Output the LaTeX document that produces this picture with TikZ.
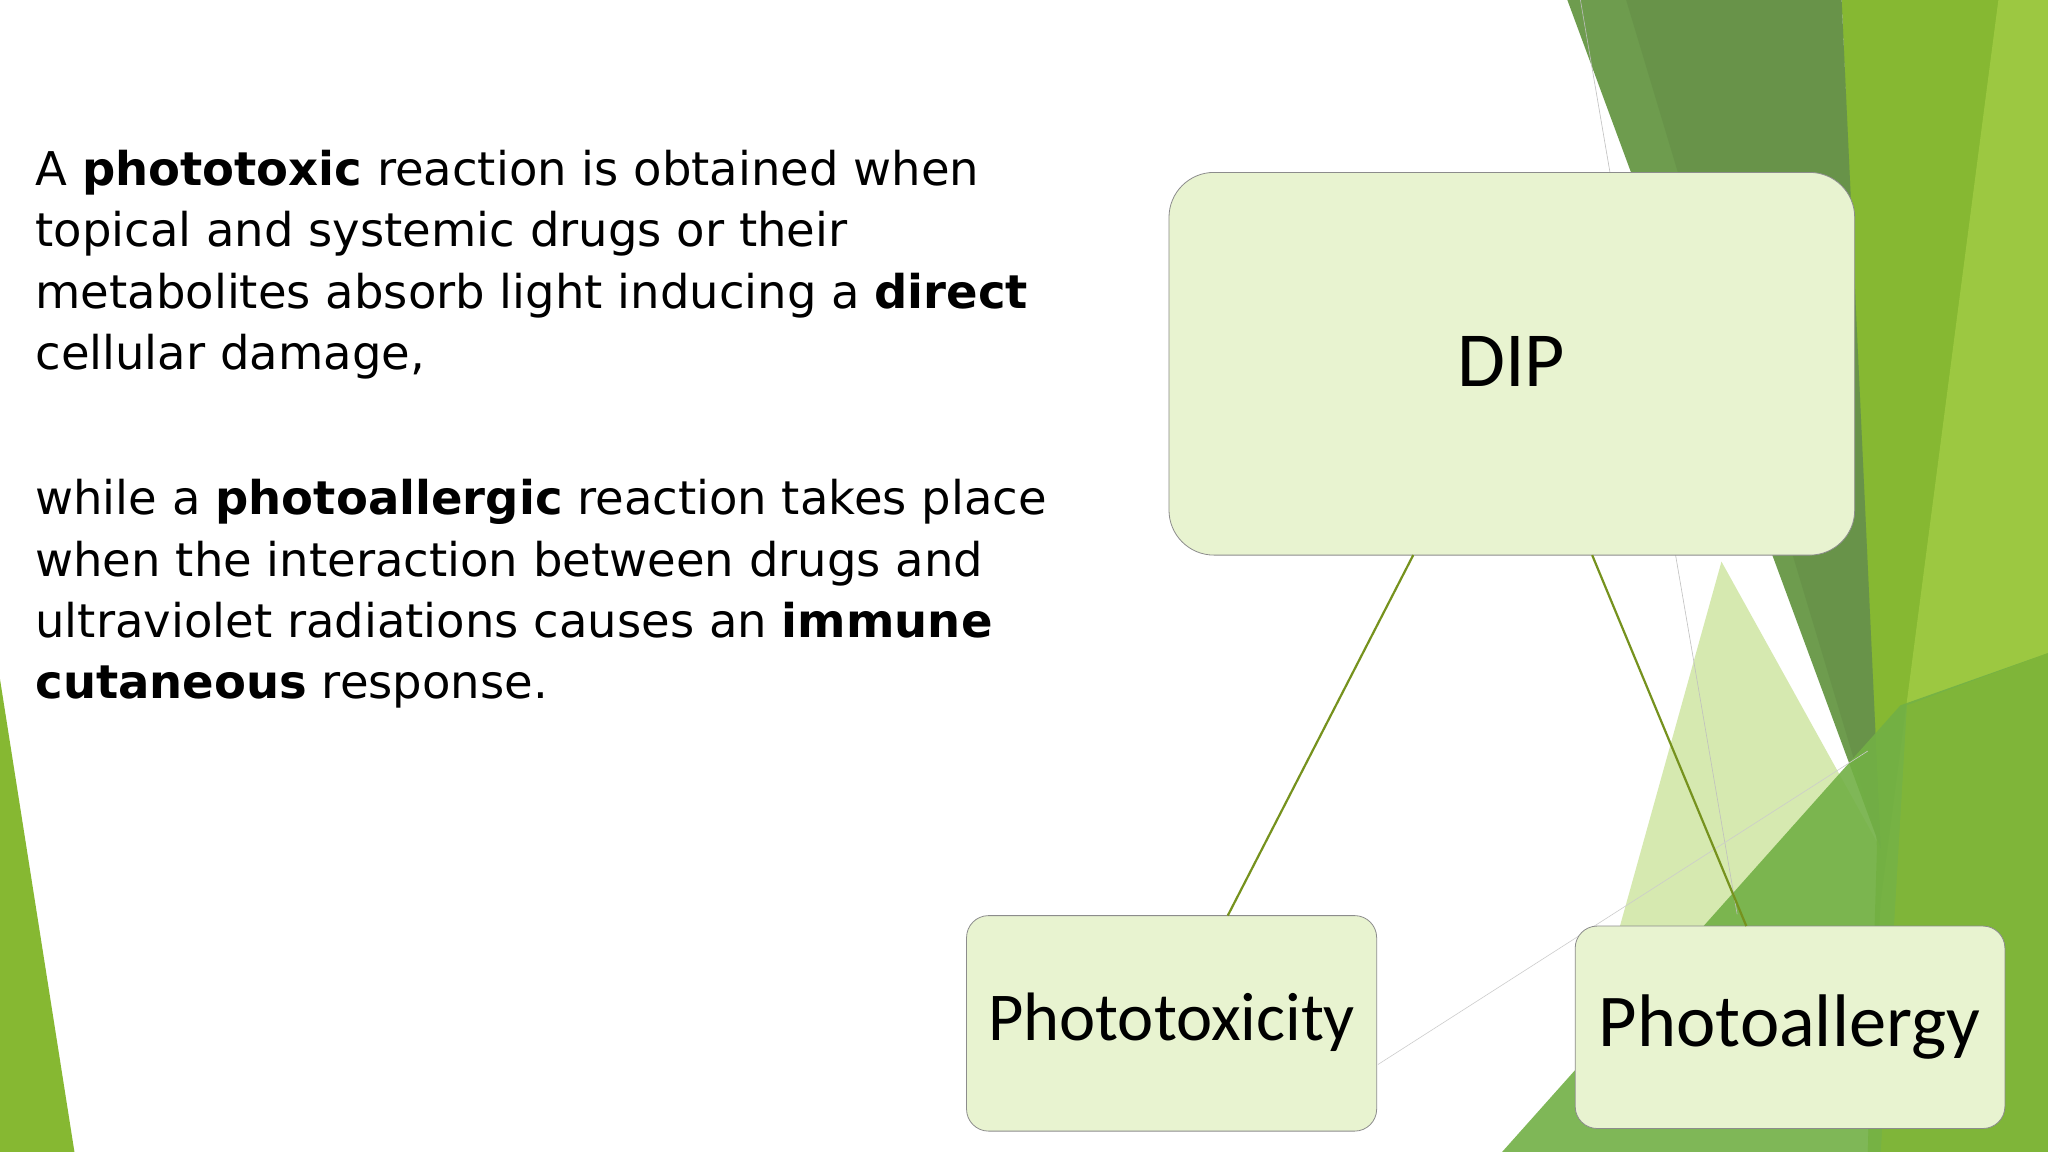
\documentclass[tikz,border=0pt]{standalone}
\usepackage{fontspec}
\setmainfont{DejaVu Sans}
\newfontfamily\boxfont{Carlito}
\begin{document}
\begin{tikzpicture}[x=1.306pt,y=-1.306pt,
  txt/.style={anchor=base west,inner sep=0pt,font=\fontsize{46.5}{56}\selectfont},
  card/.style={draw=black!45,line width=0.8pt,fill=cardc},
  link/.style={draw=linkc,line width=2.2pt}]
\definecolor{cardc}{HTML}{E8F3D0}
\definecolor{linkc}{HTML}{76921E}
\definecolor{dkg}{HTML}{6E9C4E}
\definecolor{lime}{HTML}{86B832}
\definecolor{lime2}{HTML}{9CC841}
\definecolor{midg}{HTML}{72B045}
\definecolor{pale}{HTML}{D6E9B0}
\useasboundingbox (0,0) rectangle (1568,882);
\fill[white] (0,0) rectangle (1568,882);
% background shapes
\fill[pale] (1240,710) -- (1318,430) -- (1440,650) -- (1440,710) -- cycle;
\fill[lime] (1410,0) -- (1568,0) -- (1568,882) -- (1430,882) -- (1437,650) -- cycle;
\fill[lime2] (1530,0) -- (1568,0) -- (1568,882) -- (1430,882) -- (1440,690) -- cycle;
\fill[dkg] (1200,0) -- (1410,0) -- (1440,650) -- cycle;
\fill[dkg!85!black,opacity=0.35] (1245,0) -- (1410,0) -- (1440,650) -- cycle;
\fill[midg,opacity=0.9] (1150,882) -- (1455,540) -- (1568,500) -- (1568,882) -- cycle;
\fill[lime,opacity=0.6] (1440,882) -- (1460,540) -- (1568,500) -- (1568,882) -- cycle;
\fill[lime] (0,520) -- (57,882) -- (0,882) -- cycle;
\draw[black!25,line width=0.6pt] (1210,0) -- (1330,700);
\draw[black!20,line width=0.6pt] (1055,815) -- (1430,575);
% text
\node[txt] (l1) at (27,142) {A \textbf{phototoxic} reaction is obtained when};
\node[txt] (l2) at (27,189) {topical and systemic drugs or their};
\node[txt] (l3) at (27,236) {metabolites absorb light inducing a \textbf{direct}};
\node[txt] (l4) at (27,283) {cellular damage,};
\node[txt] (l5) at (27,394) {while a \textbf{photoallergic} reaction takes place};
\node[txt] (l6) at (27,441) {when the interaction between drugs and};
\node[txt] (l7) at (27,488) {ultraviolet radiations causes an \textbf{immune}};
\node[txt] (l8) at (27,535) {\textbf{cutaneous} response.};
% boxes
\draw[card,rounded corners=45pt] (895,132) rectangle (1420,425);
\node[font=\boxfont\fontsize{78}{90}\selectfont] (dip) at (1157,277) {DIP};
\draw[card,rounded corners=22pt] (740,701) rectangle (1054,866);
\node[font=\boxfont\fontsize{68.5}{80}\selectfont] (pt) at (897,783) {Phototoxicity};
\draw[card,rounded corners=22pt] (1206,709) rectangle (1535,864);
\node[font=\boxfont\fontsize{74.5}{80}\selectfont] (pa) at (1370,786) {Photoallergy};
\coordinate (d1) at (1082,425); \coordinate (p1) at (940,701);
\coordinate (d2) at (1219,425); \coordinate (p2) at (1337,709);
\draw[link] (d1) -- (p1);
\draw[link] (d2) -- (p2);
\end{tikzpicture}
\end{document}
